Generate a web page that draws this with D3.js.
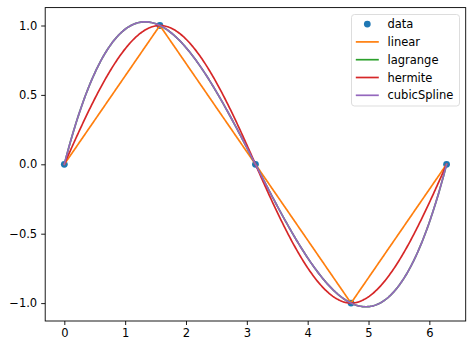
<!DOCTYPE html>
<html>
<head>
<meta charset="utf-8">
<script src="https://cdn.jsdelivr.net/npm/d3@7"></script>
<style>
html,body{margin:0;padding:0;background:#fff;}
svg{display:block;font-family:"DejaVu Sans",sans-serif;}
</style>
</head>
<body>
<svg id="chart" width="474" height="350"></svg>
<script>
// ---- data ----
const xData = [0, 1.5708, 3.1416, 4.7124, 6.2832];
const yData = [0, 1, 0, -1, 0];
const dyData = [1, 0, -1, 0, 1]; // slopes used by the hermite interpolant
const seriesNames = ["linear", "lagrange", "hermite", "cubicSpline"];
const seriesColors = ["#ff7f0e", "#2ca02c", "#d62728", "#9467bd"];
const dataColor = "#1f77b4";
const xTicks = [0, 1, 2, 3, 4, 5, 6];
const yTicks = [-1, -0.5, 0, 0.5, 1];

// ---- interpolation methods ----
function seg(x) {
  let i = 0;
  while (i < xData.length - 2 && x > xData[i + 1]) i++;
  return i;
}
function linear(x) {
  const i = seg(x), h = xData[i + 1] - xData[i], t = (x - xData[i]) / h;
  return yData[i] * (1 - t) + yData[i + 1] * t;
}
function lagrange(x) {
  let s = 0;
  for (let i = 0; i < xData.length; i++) {
    let l = 1;
    for (let j = 0; j < xData.length; j++) if (j !== i) l *= (x - xData[j]) / (xData[i] - xData[j]);
    s += yData[i] * l;
  }
  return s;
}
function hermite(x) {
  const i = seg(x), h = xData[i + 1] - xData[i], t = (x - xData[i]) / h;
  const t2 = t * t, t3 = t2 * t;
  return (2 * t3 - 3 * t2 + 1) * yData[i] + (t3 - 2 * t2 + t) * h * dyData[i] +
         (-2 * t3 + 3 * t2) * yData[i + 1] + (t3 - t2) * h * dyData[i + 1];
}
// not-a-knot cubic spline
const M = (function () {
  const n = xData.length, h = [];
  for (let i = 0; i < n - 1; i++) h.push(xData[i + 1] - xData[i]);
  const A = Array.from({length: n}, () => new Array(n).fill(0)), b = new Array(n).fill(0);
  A[0][0] = h[1]; A[0][1] = -(h[0] + h[1]); A[0][2] = h[0];
  for (let i = 1; i < n - 1; i++) {
    A[i][i - 1] = h[i - 1]; A[i][i] = 2 * (h[i - 1] + h[i]); A[i][i + 1] = h[i];
    b[i] = 6 * ((yData[i + 1] - yData[i]) / h[i] - (yData[i] - yData[i - 1]) / h[i - 1]);
  }
  A[n - 1][n - 3] = h[n - 2]; A[n - 1][n - 2] = -(h[n - 3] + h[n - 2]); A[n - 1][n - 1] = h[n - 3];
  for (let c = 0; c < n; c++) {
    let p = c;
    for (let r = c + 1; r < n; r++) if (Math.abs(A[r][c]) > Math.abs(A[p][c])) p = r;
    [A[c], A[p]] = [A[p], A[c]]; [b[c], b[p]] = [b[p], b[c]];
    for (let r = c + 1; r < n; r++) {
      const f = A[r][c] / A[c][c];
      for (let k = c; k < n; k++) A[r][k] -= f * A[c][k];
      b[r] -= f * b[c];
    }
  }
  const m = new Array(n).fill(0);
  for (let r = n - 1; r >= 0; r--) {
    let s = b[r];
    for (let k = r + 1; k < n; k++) s -= A[r][k] * m[k];
    m[r] = s / A[r][r];
  }
  return m;
})();
function cubicSpline(x) {
  const i = seg(x), h = xData[i + 1] - xData[i];
  const a = xData[i + 1] - x, c = x - xData[i];
  return M[i] * a * a * a / (6 * h) + M[i + 1] * c * c * c / (6 * h) +
         (yData[i] / h - M[i] * h / 6) * a + (yData[i + 1] / h - M[i + 1] * h / 6) * c;
}
const methods = [linear, lagrange, hermite, cubicSpline];

// ---- layout ----
const svg = d3.select("#chart");
const L = 45.2, T = 7.6, W = 420.5, H = 313.4;
const FS = "11.5px";
const x0 = xData[0], x1 = xData[xData.length - 1];
const samples = d3.range(0, 401).map(k => x0 + (x1 - x0) * k / 400);
const curves = methods.map(f => samples.map(x => [x, f(x)]));
const allY = curves.flat().map(d => d[1]).concat(yData);
const ymin = d3.min(allY), ymax = d3.max(allY);
const xpad = (x1 - x0) * 0.05, ypad = (ymax - ymin) * 0.05;

const xs = d3.scaleLinear().domain([x0 - xpad, x1 + xpad]).range([L, L + W]);
const ys = d3.scaleLinear().domain([ymin - ypad, ymax + ypad]).range([T + H, T]);

const fmtY = d => (d < 0 ? "\u2212" : "") + Math.abs(d).toFixed(1);

const gx = svg.append("g").attr("transform", `translate(0,${T + H})`)
  .call(d3.axisBottom(xs).tickValues(xTicks).tickSize(4).tickPadding(4).tickFormat(d3.format("d")));
const gy = svg.append("g").attr("transform", `translate(${L},0)`)
  .call(d3.axisLeft(ys).tickValues(yTicks).tickSize(4).tickPadding(4).tickFormat(fmtY));
[gx, gy].forEach(g => {
  g.select(".domain").remove();
  g.selectAll("line").attr("stroke", "#000").attr("stroke-width", 0.9);
  g.selectAll("text").attr("fill", "#000").style("font-size", FS).style("font-family", "DejaVu Sans");
});

const plot = svg.append("g");
// data points (drawn first, lines on top)
plot.selectAll("circle.pt").data(xData.map((x, i) => [x, yData[i]])).enter()
  .append("circle").attr("class", "pt")
  .attr("cx", d => xs(d[0])).attr("cy", d => ys(d[1])).attr("r", 3.4)
  .attr("fill", dataColor);

const line = d3.line().x(d => xs(d[0])).y(d => ys(d[1]));
curves.forEach((c, k) => {
  plot.append("path").datum(c).attr("d", line)
    .attr("fill", "none").attr("stroke", seriesColors[k]).attr("stroke-width", 1.7)
    .attr("stroke-linejoin", "round").attr("stroke-linecap", "square");
});

// frame
svg.append("rect").attr("x", L).attr("y", T).attr("width", W).attr("height", H)
  .attr("fill", "none").attr("stroke", "#000").attr("stroke-width", 0.9);

// legend
const lg = svg.append("g");
const lx = 351.5, ly = 14.5, lw = 108, lh = 91.5, rowH = 17.8;
lg.append("rect").attr("x", lx).attr("y", ly).attr("width", lw).attr("height", lh)
  .attr("rx", 3).attr("fill", "#fff").attr("fill-opacity", 0.8)
  .attr("stroke", "#d9d9d9").attr("stroke-width", 0.9);
const labels = ["data"].concat(seriesNames);
labels.forEach((name, i) => {
  const cy = ly + 9.6 + i * rowH;
  if (i === 0) {
    lg.append("circle").attr("cx", 367.3).attr("cy", cy).attr("r", 3.4).attr("fill", dataColor);
  } else {
    lg.append("line").attr("x1", 355.8).attr("x2", 378.8).attr("y1", cy).attr("y2", cy)
      .attr("stroke", seriesColors[i - 1]).attr("stroke-width", 1.7);
  }
  lg.append("text").attr("x", 387.5).attr("y", cy).attr("dy", "0.35em")
    .style("font-size", FS).attr("fill", "#000").text(name);
});
</script>
</body>
</html>
